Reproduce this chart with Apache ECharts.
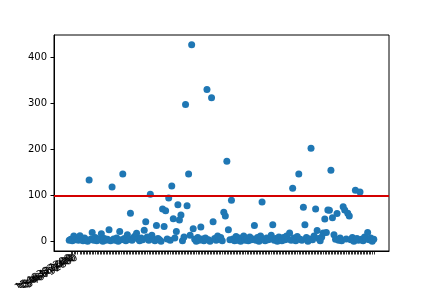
<!DOCTYPE html>
<html>
<head>
<meta charset="utf-8">
<script src="https://cdn.jsdelivr.net/npm/echarts@6/dist/echarts.min.js"></script>
<style>html,body{margin:0;padding:0;background:#fff;}#c{width:432px;height:288px;}</style>
</head>
<body>
<div id="c"></div>
<script>
// Values (one per category index 0..199)
const values = [
  3,5,2,12,4,7,3,13,6,2, 8,4,1,134,5,20,3,9,2,6,
  4,17,1,7,3,5,26,2,119,6, 3,8,1,22,4,147,7,2,15,5,
  62,3,9,12,18,6,2,8,4,25, 43,10,3,103,14,5,2,35,7,4,
  1,71,33,67,6,95,3,121,50,8, 22,80,47,58,2,10,298,78,147,14,
  428,28,5,1,9,3,32,6,2,8, 331,4,1,313,43,7,3,12,5,9,
  2,64,56,175,26,4,90,6,2,11, 3,8,1,5,12,3,7,2,10,4,
  6,35,3,9,1,12,86,5,2,8, 4,6,14,37,3,7,1,10,5,2,
  9,4,12,6,19,3,116,8,2,11, 147,5,3,75,37,9,1,6,203,4,
  12,71,24,7,2,10,19,49,20,69, 68,155,52,15,5,61,3,8,2,76,
  69,6,62,56,4,9,1,112,7,3, 108,5,2,10,6,20,4,8,1,5
];
const threshold = 100;
const yTicks = [0, 100, 200, 300, 400];
const tickLabels = ['1546300800','1546387200','1546473600','1546560000','1546646400',
                    '1546732800','1546819200'];

const n = values.length;
const pts = values.map((v, i) => [i, v]);
const xTickVals = values.map((v, i) => i);
const xLabelVals = tickLabels.map((t, i) => i);
const ymin = Math.min(...values), ymax = Math.max(...values);
const ypad = (ymax - ymin) * 0.05;
const xpad = (n - 1) * 0.05;

const chart = echarts.init(document.getElementById('c'), null, {renderer: 'canvas'});
chart.setOption({
  animation: false,
  backgroundColor: '#fff',
  textStyle: {fontFamily: 'DejaVu Sans'},
  grid: {left: 54, right: 43, top: 35, bottom: 37, containLabel: false, outerBoundsMode: 'none',
         show: true, borderColor: '#000', borderWidth: 1, backgroundColor: 'transparent'},
  xAxis: {
    type: 'value',
    min: -xpad, max: (n - 1) + xpad,
    splitLine: {show: false},
    axisLine: {show: true, onZero: false, lineStyle: {color: '#000', width: 1}},
    axisTick: {show: true, inside: false, length: 3.5, lineStyle: {color: '#000', width: 0.8}, customValues: xTickVals},
    axisLabel: {
      show: true, rotate: 30, margin: 6, fontSize: 10, color: '#000', fontFamily: 'DejaVu Sans',
      customValues: xLabelVals,
      formatter: (v) => tickLabels[Math.round(v)] || ''
    }
  },
  yAxis: {
    type: 'value',
    min: ymin - ypad, max: ymax + ypad,
    splitLine: {show: false},
    axisLine: {show: true, onZero: false, lineStyle: {color: '#000', width: 1}},
    axisTick: {show: true, inside: false, length: 3.5, lineStyle: {color: '#000', width: 1}, customValues: yTicks},
    axisLabel: {show: true, margin: 7, fontSize: 10, color: '#000', fontFamily: 'DejaVu Sans', customValues: yTicks}
  },
  series: [{
    type: 'scatter',
    data: pts,
    symbolSize: 7,
    itemStyle: {color: '#1f77b4', opacity: 1},
    markLine: {
      silent: true,
      symbol: ['none', 'none'],
      label: {show: false},
      lineStyle: {color: '#d40000', width: 2, type: 'solid'},
      data: [{yAxis: threshold}]
    }
  }]
});
</script>
</body>
</html>
